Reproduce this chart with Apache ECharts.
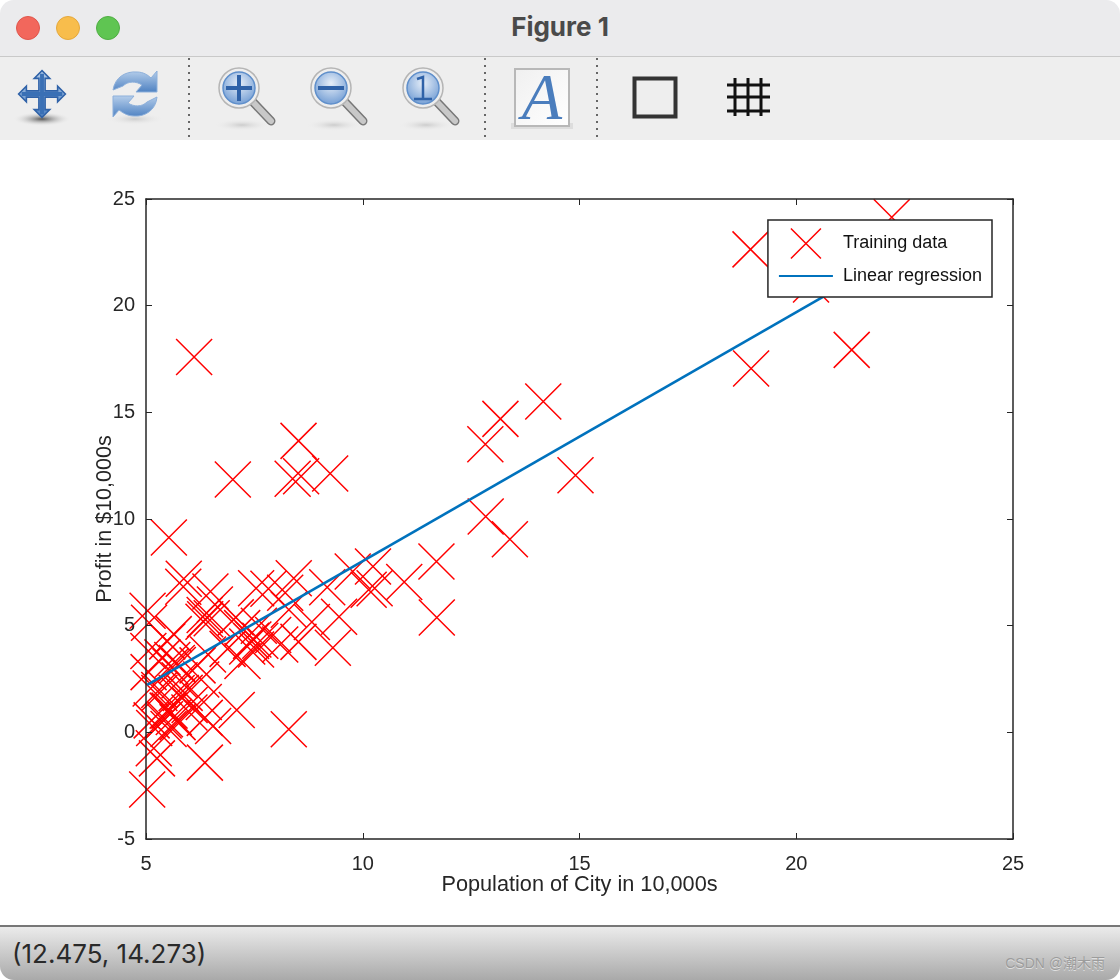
<!DOCTYPE html>
<html>
<head>
<meta charset="utf-8">
<title>Figure 1</title>
<script src="https://cdn.jsdelivr.net/npm/echarts@6/dist/echarts.min.js"></script>
<style>
    html, body {margin: 0; padding: 0; background: #fff;}
    #win {position: relative; width: 1120px; height: 980px; overflow: hidden; background: #fff;}
    #titlebar {position: absolute; left: 0; top: 0; width: 1120px; height: 56px; background: #ebebed; border-bottom: 1px solid #c9c9c9; border-radius: 14px 14px 0 0;}
    .light {position: absolute; top: 16px; width: 24px; height: 24px; border-radius: 50%; box-sizing: border-box;}
    #title {position: absolute; left: 0; right: 0; top: 11px; text-align: center; font: bold 26px Inter, "Open Sans", sans-serif; color: #4a4a4a;}
    #toolbar {position: absolute; left: 0; top: 57px; width: 1120px; height: 83px; background: #eeeeee;}
    #main {position: absolute; left: 0; top: 140px; width: 1120px; height: 785px;}
    #statusbar {position: absolute; left: 0; top: 925px; width: 1120px; height: 55px; box-sizing: border-box; border-top: 2px solid #777; background: linear-gradient(#ebebeb, #a9a9a9); border-radius: 0 0 14px 14px;}
    #coords {position: absolute; left: 12px; top: 11px; font: 26px Inter, "Open Sans", sans-serif; color: #2a2a2a;}
    #mark {position: absolute; right: 15px; top: 25px; font: 14px "Liberation Sans", "Noto Sans CJK SC", sans-serif; color: #9c9c9c; text-shadow: 0 1px 0 #e0e0e0;}
</style>
</head>
<body>
<div id="win">
    <div id="titlebar">
        <div class="light" style="left:16px;background:#f2675c;border:1px solid #e0564c"></div>
        <div class="light" style="left:56px;background:#f8bd4c;border:1px solid #e5a83c"></div>
        <div class="light" style="left:96px;background:#5fc552;border:1px solid #50ae44"></div>
        <div id="title">Figure 1</div>
    </div>
    <div id="toolbar">
        <svg width="1120" height="83" style="position:absolute;left:0;top:0">
            <defs>
                <radialGradient id="lens" cx="50%" cy="35%" r="60%">
                    <stop offset="0" stop-color="#e6eef8"/><stop offset="1" stop-color="#7fa6d8"/>
                </radialGradient>
                <linearGradient id="blue" x1="0" y1="0" x2="0" y2="1">
                    <stop offset="0" stop-color="#b4cdea"/><stop offset="1" stop-color="#4f82c2"/>
                </linearGradient>
                <linearGradient id="page" x1="0" y1="0" x2="1" y2="1">
                    <stop offset="0" stop-color="#f0f0f0"/><stop offset="1" stop-color="#ffffff"/>
                </linearGradient>
                <radialGradient id="shadow">
                    <stop offset="0" stop-color="#555"/><stop offset="1" stop-color="#eee" stop-opacity="0"/>
                </radialGradient>
                <radialGradient id="shadowLight">
                    <stop offset="0" stop-color="#ccc"/><stop offset="1" stop-color="#eee" stop-opacity="0"/>
                </radialGradient>
                <g id="loupe">
                    <ellipse cx="3" cy="37" rx="28" ry="6" fill="url(#shadowLight)"/>
                    <line x1="14" y1="14" x2="32" y2="33" stroke="#777" stroke-width="9" stroke-linecap="round"/>
                    <line x1="14" y1="14" x2="32" y2="33" stroke="#c8c8c8" stroke-width="6" stroke-linecap="round"/>
                    <circle cx="0" cy="0" r="20" fill="#eee" stroke="#b5b5b5" stroke-width="1.5"/>
                    <circle cx="0" cy="0" r="16" fill="url(#lens)" stroke="#5f8fcb" stroke-width="1.5"/>
                </g>
            </defs>
            <!-- move -->
            <ellipse cx="42" cy="62" rx="29" ry="7" fill="url(#shadow)"/>
            <g transform="translate(42,37) scale(0.78) translate(-42,-40)">
                <path d="M42 13l10 10h-6v16h16v-6l10 10-10 10v-6h-16v16h6l-10 10-10-10h6v-16h-16v6l-10-10 10-10v6h16v-16h-6z" transform="translate(0,-3)" fill="url(#blue)" stroke="#2f62a8" stroke-width="2"/>
                <path d="M42 14v52M16 40h52" stroke="#3a70b5" stroke-width="5"/>
            </g>
            <!-- refresh -->
            <ellipse cx="135" cy="62" rx="29" ry="6" fill="url(#shadowLight)"/>
            <path d="M113 33c2-13 13-19 24-18 6 0 11 3 14 6l6-7v21h-21l6-7c-6-4-14-4-19 1z" fill="url(#blue)" stroke="#8db0db"/>
            <path d="M157 40c-1 13-12 20-23 19-6 0-11-3-15-6l-6 7v-21h21l-6 7c6 4 14 4 19-1z" fill="url(#blue)" stroke="#8db0db"/>
            <!-- separators -->
            <line x1="189" y1="1" x2="189" y2="81" stroke="#666" stroke-width="2" stroke-dasharray="2 5"/>
            <line x1="485" y1="1" x2="485" y2="81" stroke="#666" stroke-width="2" stroke-dasharray="2 5"/>
            <line x1="597" y1="1" x2="597" y2="81" stroke="#666" stroke-width="2" stroke-dasharray="2 5"/>
            <!-- zoom in -->
            <use href="#loupe" x="239" y="31"/>
            <path d="M226 31h26M239 18v26" stroke="#2f62a8" stroke-width="4"/>
            <!-- zoom out -->
            <use href="#loupe" x="331" y="31"/>
            <path d="M318 31h26" stroke="#2f62a8" stroke-width="4"/>
            <!-- zoom 1 -->
            <use href="#loupe" x="423" y="31"/>
            <path d="M417 22l6-2v22M414 42h18" stroke="#2f62a8" stroke-width="2.5" fill="none"/>
            <!-- axes font -->
            <rect x="511" y="66" width="62" height="6" fill="#d8d8d8" opacity="0.8"/>
            <rect x="515" y="12" width="54" height="57" fill="url(#page)" stroke="#b8b8b8" stroke-width="2"/>
            <text x="542" y="62" text-anchor="middle" font-family="Liberation Serif" font-style="italic" font-size="66" fill="#4a7dbd">A</text>
            <!-- box -->
            <rect x="634.5" y="21.5" width="41" height="38" fill="none" stroke="#333" stroke-width="4"/>
            <!-- grid -->
            <path d="M727 28h43M727 40h43M727 54h43M735 21v38M748 21v38M761 21v38" stroke="#111" stroke-width="3" fill="none"/>
        </svg>
    </div>
    <div id="main"></div>
    <div id="statusbar">
        <div id="coords">(12.475, 14.273)</div>
        <div id="mark">CSDN @潮木雨</div>
    </div>
</div>
<script>
    // 城市人口（万）
    const population = [
        6.1101, 5.5277, 8.5186, 7.0032, 5.8598, 8.3829, 7.4764, 8.5781, 6.4862, 5.0546,
        5.7107, 14.164, 5.734, 8.4084, 5.6407, 5.3794, 6.3654, 5.1301, 6.4296, 7.0708,
        6.1891, 20.27, 5.4901, 6.3261, 5.5649, 18.945, 12.828, 10.957, 13.176, 22.203,
        5.2524, 6.5894, 9.2482, 5.8918, 8.2111, 7.9334, 8.0959, 5.6063, 12.836, 6.3534,
        5.4069, 6.8825, 11.708, 5.7737, 7.8247, 7.0931, 5.0702, 5.8014, 11.7, 5.5416,
        7.5402, 5.3077, 7.4239, 7.6031, 6.3328, 6.3589, 6.2742, 5.6397, 9.3102, 9.4536,
        8.8254, 5.1793, 21.279, 14.908, 18.959, 7.2182, 8.2951, 10.236, 5.4994, 20.341,
        10.136, 7.3345, 6.0062, 7.2259, 5.0269, 6.5479, 7.5386, 5.0365, 10.274, 5.1077,
        5.7292, 5.1884, 6.3557, 9.7687, 6.5159, 8.5172, 9.1802, 6.002, 5.5204, 5.0594,
        5.7077, 7.6366, 5.8707, 5.3054, 8.2934, 13.394, 5.4369
    ];
    // 利润（万美元）
    const profit = [
        17.592, 9.1302, 13.662, 11.854, 6.8233, 11.886, 4.3483, 12, 6.5987, 3.8166,
        3.2522, 15.505, 3.1551, 7.2258, 0.71618, 3.5129, 5.3048, 0.56077, 3.6518, 5.3893,
        3.1386, 21.767, 4.263, 5.1875, 3.0825, 22.638, 13.501, 7.0467, 14.692, 24.147,
        -1.22, 5.9966, 12.134, 1.8495, 6.5426, 4.5623, 4.1164, 3.3928, 10.117, 5.4974,
        0.55657, 3.9115, 5.3854, 2.4406, 6.7318, 1.0463, 5.1337, 1.844, 8.0043, 1.0179,
        6.7504, 1.8396, 4.2885, 4.9981, 1.4233, -1.4211, 2.4756, 4.6042, 3.9624, 5.4141,
        5.1694, -0.74279, 17.929, 12.054, 17.054, 4.8852, 5.7442, 7.7754, 1.0173, 20.992,
        6.6799, 4.0259, 1.2784, 3.3411, -2.6807, 0.29678, 3.8845, 5.7014, 6.7526, 2.0576,
        0.47953, 0.20421, 0.67861, 7.5435, 5.3436, 4.2415, 6.7981, 0.92695, 0.152, 2.8214,
        1.8451, 4.2959, 7.2029, 1.9869, 0.14454, 9.0551, 0.61705
    ];
    // 回归线两端
    const fitX = [5.0269, 22.203];
    const fitY = [2.23, 22.26];

    const crossIcon = 'path://M0 0L10 10M10 0L0 10';
    const lineIcon = 'path://M0 0H54V2H0Z';
    const fontName = '"Liberation Sans", Helvetica, Arial, sans-serif';
    const axisColor = '#262626';

    let chart = echarts.init(document.getElementById('main'), null, {renderer: 'canvas'});

    function frameAxis(position, min, max) {
        return {
            type: 'value',
            position: position,
            min: min,
            max: max,
            interval: 5,
            z: 4,
            splitLine: {show: false},
            axisLine: {show: true, onZero: false, lineStyle: {color: axisColor, width: 1.5}},
            axisTick: {show: true, inside: true, length: 6, lineStyle: {color: axisColor, width: 1}},
            axisLabel: {show: false}
        };
    }

    let bottomAxis = frameAxis('bottom', 5, 25);
    bottomAxis.name = 'Population of City in 10,000s';
    bottomAxis.nameLocation = 'middle';
    bottomAxis.nameGap = 35;
    bottomAxis.nameMoveOverlap = false;
    bottomAxis.nameTextStyle = {fontFamily: fontName, fontSize: 21.7, color: axisColor};
    bottomAxis.axisLabel = {show: true, margin: 15, fontFamily: fontName, fontSize: 20, color: axisColor};

    let leftAxis = frameAxis('left', -5, 25);
    leftAxis.name = 'Profit in $10,000s';
    leftAxis.nameLocation = 'middle';
    leftAxis.nameGap = 30;
    leftAxis.nameMoveOverlap = false;
    leftAxis.nameTextStyle = {fontFamily: fontName, fontSize: 21.5, color: axisColor};
    leftAxis.axisLabel = {show: true, margin: 11, fontFamily: fontName, fontSize: 20, color: axisColor};

    chart.setOption({
        backgroundColor: 'transparent',
        animation: false,
        grid: {left: 146, right: 107, top: 59, height: 640},
        xAxis: [bottomAxis, frameAxis('top', 5, 25)],
        yAxis: [leftAxis, frameAxis('right', -5, 25)],
        legend: {
            orient: 'vertical',
            right: 128,
            top: 80,
            z: 6,
            padding: [6, 10, 12, 11],
            itemWidth: 54,
            itemHeight: 30,
            itemGap: 6,
            backgroundColor: '#fff',
            borderColor: axisColor,
            borderWidth: 1.5,
            borderRadius: 0,
            textStyle: {fontFamily: fontName, fontSize: 18, color: '#111', padding: [0, 0, 0, 5]},
            data: [
                {name: 'Training data', icon: crossIcon, itemStyle: {color: 'none', borderColor: '#ff0000', borderWidth: 1.5}},
                {name: 'Linear regression', icon: lineIcon, itemStyle: {color: '#0072bd', borderWidth: 0}}
            ]
        },
        series: [
            {
                name: 'Training data',
                type: 'scatter',
                clip: false,
                z: 2,
                symbol: crossIcon,
                symbolSize: 36,
                itemStyle: {color: 'none', borderColor: '#ff0000', borderWidth: 1.5, opacity: 1},
                data: population.map((x, i) => [x, profit[i]])
            },
            {
                name: 'Linear regression',
                type: 'line',
                z: 3,
                symbol: 'none',
                lineStyle: {color: '#0072bd', width: 2.6},
                itemStyle: {color: '#0072bd'},
                data: fitX.map((x, i) => [x, fitY[i]])
            }
        ]
    });
</script>
</body>
</html>
